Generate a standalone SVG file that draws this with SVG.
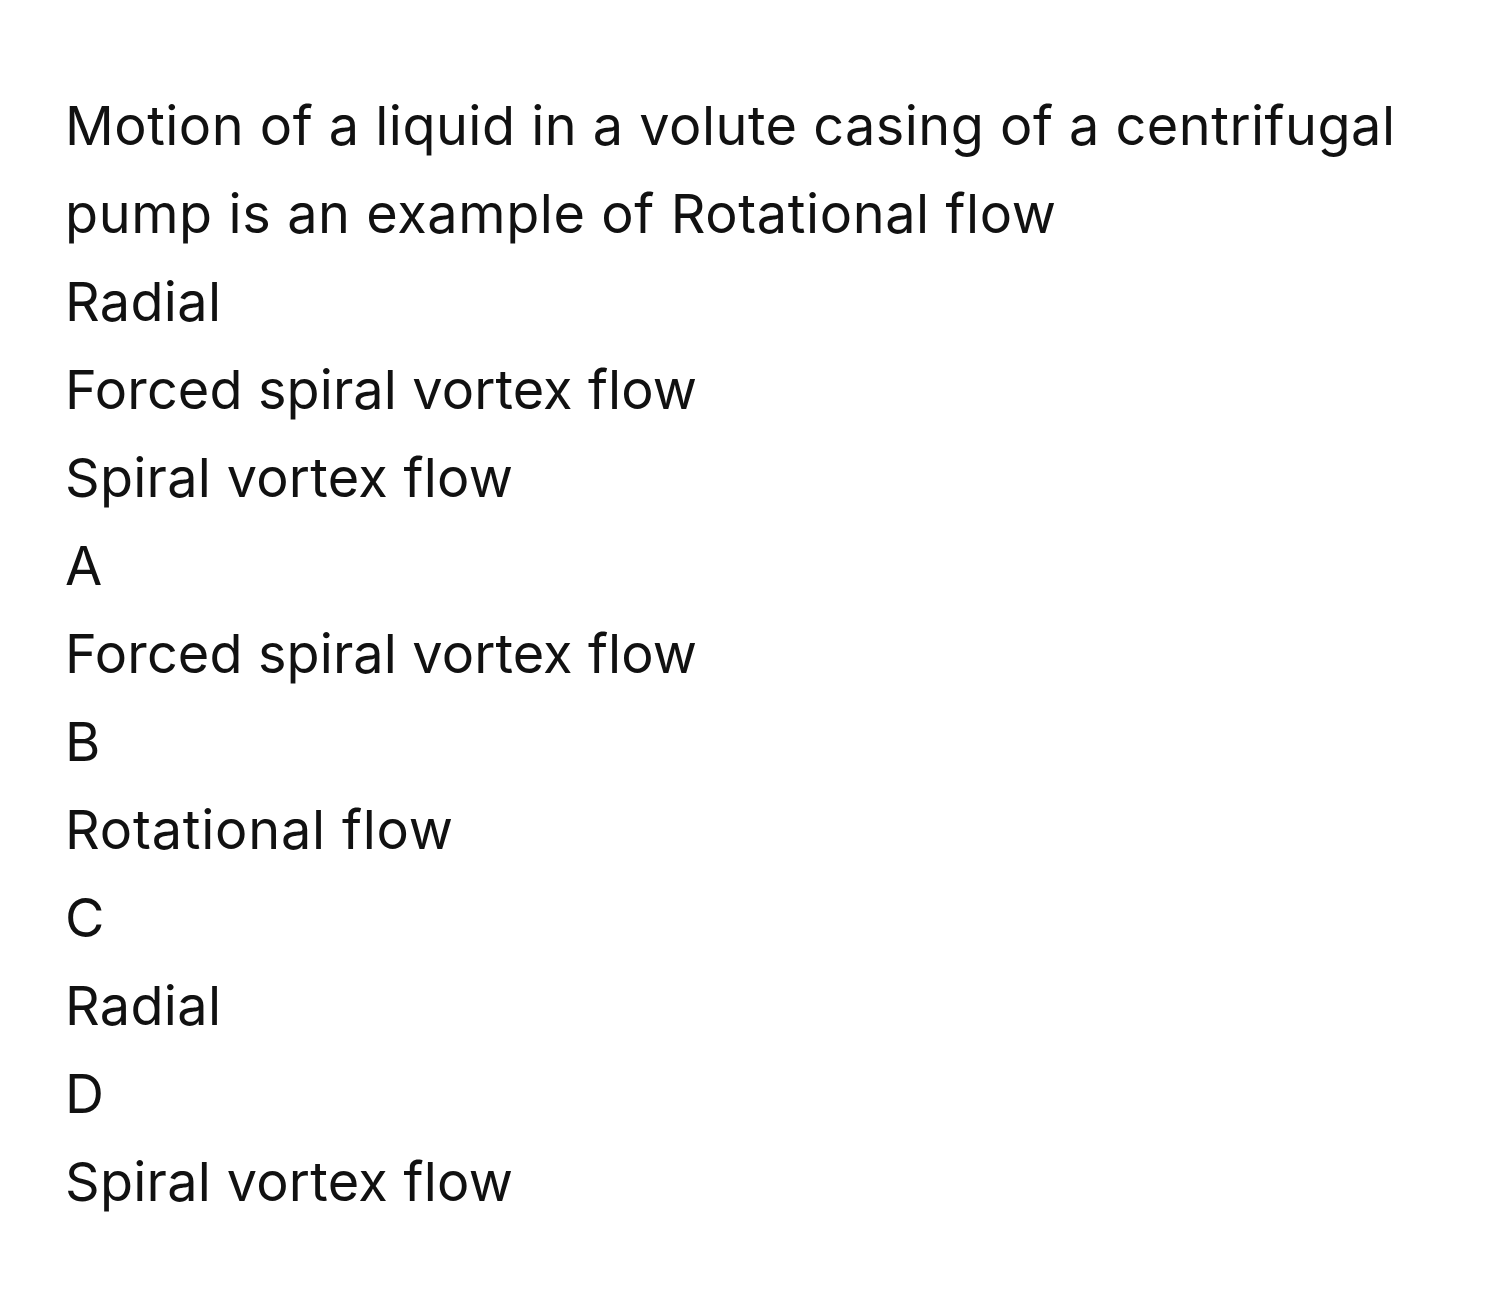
<svg xmlns="http://www.w3.org/2000/svg" width="1500" height="1304" viewBox="0 0 1500 1304">
<style>
text{font-family:Inter,"Noto Sans","Liberation Sans",sans-serif;font-size:54px;fill:#111;}
</style>
<rect width="1500" height="1304" fill="#fff"/>
<g id="question">
<text x="65" y="145" textLength="1330" lengthAdjust="spacing">Motion of a liquid in a volute casing of a centrifugal</text>
<text x="65" y="233" textLength="991" lengthAdjust="spacing">pump is an example of Rotational flow</text>
</g>
<g id="list">
<text x="65" y="321" textLength="156" lengthAdjust="spacing">Radial</text>
<text x="65" y="409" textLength="632" lengthAdjust="spacing">Forced spiral vortex flow</text>
<text x="65" y="497" textLength="448" lengthAdjust="spacing">Spiral vortex flow</text>
</g>
<g id="options">
<text x="65" y="585">A</text>
<text x="65" y="673" textLength="632" lengthAdjust="spacing">Forced spiral vortex flow</text>
<text x="65" y="761">B</text>
<text x="65" y="849" textLength="388" lengthAdjust="spacing">Rotational flow</text>
<text x="65" y="937">C</text>
<text x="65" y="1025" textLength="156" lengthAdjust="spacing">Radial</text>
<text x="65" y="1113">D</text>
<text x="65" y="1201" textLength="448" lengthAdjust="spacing">Spiral vortex flow</text>
</g>
</svg>
